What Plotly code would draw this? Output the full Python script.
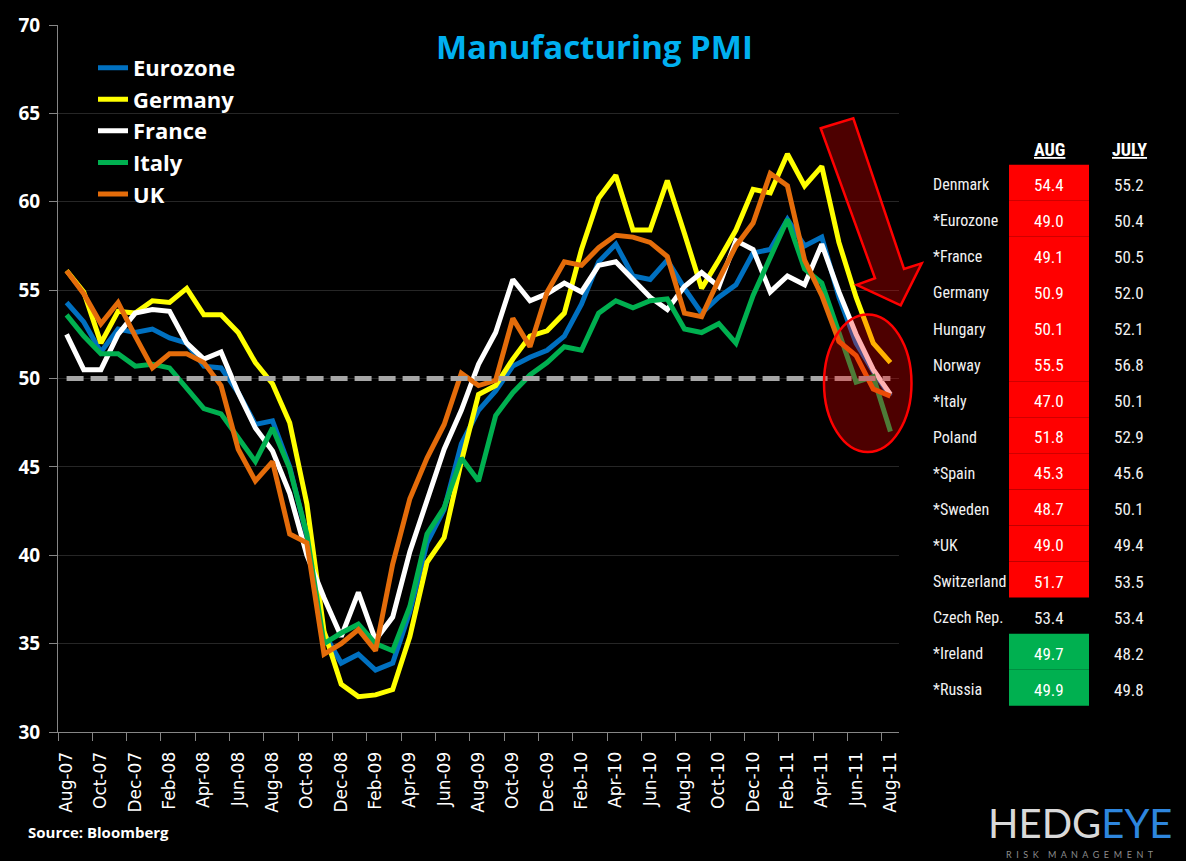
import pandas as pd
import plotly.graph_objects as go

# ---------------- data ----------------
months = [d.strftime("%b-%y") for d in pd.date_range("2007-08-01", "2011-08-01", freq="MS")]

eurozone = [54.3, 53.2, 51.5, 52.8, 52.6, 52.8, 52.3, 52.0, 50.7, 50.6, 49.2, 47.4, 47.6,
            45.0, 41.1, 35.6, 33.9, 34.4, 33.5, 33.9, 36.8, 40.7, 42.6, 46.3, 48.2, 49.3,
            50.7, 51.2, 51.6, 52.4, 54.2, 56.6, 57.6, 55.8, 55.6, 56.7, 55.1, 53.7, 54.6,
            55.3, 57.1, 57.3, 59.0, 57.5, 58.0, 54.6, 52.0, 50.4, 49.0]
germany = [56.1, 54.9, 52.0, 53.8, 53.7, 54.4, 54.3, 55.1, 53.6, 53.6, 52.6, 50.9, 49.7,
           47.5, 42.9, 35.7, 32.7, 32.0, 32.1, 32.4, 35.4, 39.6, 41.0, 45.3, 49.1, 49.6,
           51.1, 52.4, 52.7, 53.7, 57.3, 60.2, 61.5, 58.4, 58.4, 61.2, 58.2, 55.1, 56.7,
           58.4, 60.7, 60.5, 62.7, 60.9, 62.0, 57.7, 54.6, 52.0, 50.9]
france = [52.5, 50.5, 50.5, 52.5, 53.7, 53.9, 53.8, 52.0, 51.1, 51.5, 49.2, 47.2, 45.9,
          43.5, 40.0, 37.6, 35.4, 37.9, 35.2, 36.5, 40.2, 43.2, 46.0, 48.2, 50.8, 52.6,
          55.6, 54.4, 54.8, 55.4, 54.9, 56.4, 56.6, 55.6, 54.6, 53.9, 55.2, 56.0, 55.2,
          57.8, 57.3, 54.9, 55.8, 55.3, 57.6, 54.9, 52.5, 50.5, 49.1]
italy = [53.6, 52.4, 51.4, 51.4, 50.7, 50.8, 50.6, 49.4, 48.3, 48.0, 46.7, 45.3, 47.2,
         44.9, 41.2, 35.0, 35.6, 36.1, 35.0, 34.6, 37.1, 41.2, 42.7, 45.5, 44.2, 47.9,
         49.2, 50.2, 50.9, 51.8, 51.6, 53.7, 54.4, 54.0, 54.4, 54.5, 52.8, 52.6, 53.1,
         52.0, 54.7, 56.9, 59.0, 56.2, 55.4, 52.6, 49.8, 50.1, 47.0]
uk = [56.1, 54.8, 53.1, 54.3, 52.4, 50.6, 51.4, 51.4, 50.9, 49.6, 46.0, 44.2, 45.3,
      41.2, 40.7, 34.4, 35.0, 35.8, 34.6, 39.5, 43.2, 45.5, 47.4, 50.3, 49.6, 49.9,
      53.4, 51.8, 54.9, 56.6, 56.4, 57.4, 58.1, 58.0, 57.7, 56.9, 53.7, 53.5, 55.6,
      57.5, 58.8, 61.6, 60.9, 56.7, 54.7, 52.1, 51.3, 49.4, 49.0]

series_names = ["Eurozone", "Germany", "France", "Italy", "UK"]
series_values = [eurozone, germany, france, italy, uk]
series_colors = ["#0070C0", "#FFFF00", "#FFFFFF", "#00B050", "#E46C0A"]

threshold = 50

countries = ["Denmark", "*Eurozone", "*France", "Germany", "Hungary", "Norway", "*Italy",
             "Poland", "*Spain", "*Sweden", "*UK", "Switzerland", "Czech Rep.", "*Ireland",
             "*Russia"]
aug_vals = [54.4, 49.0, 49.1, 50.9, 50.1, 55.5, 47.0, 51.8, 45.3, 48.7, 49.0, 51.7, 53.4, 49.7, 49.9]
july_vals = [55.2, 50.4, 50.5, 52.0, 52.1, 56.8, 50.1, 52.9, 45.6, 50.1, 49.4, 53.5, 53.4, 48.2, 49.8]

# ---------------- layout geometry ----------------
W, H = 1186, 861
ML, MR, MT, MB = 58, 287, 20, 129
PW, PH = W - ML - MR, H - MT - MB


def px_x(px):
    return (px - ML) / PW


def px_y(py):
    return (H - MB - py) / PH


idx = list(range(len(months)))

fig = go.Figure()
for name, vals, color in zip(series_names, series_values, series_colors):
    fig.add_trace(go.Scatter(x=idx, y=vals, mode="lines", name=name,
                             line=dict(color=color, width=5), hoverinfo="skip"))

fig.add_trace(go.Scatter(x=[idx[0], idx[-1]], y=[threshold, threshold], mode="lines",
                         line=dict(color="#A6A6A6", width=5, dash="17px,7px"),
                         showlegend=False, hoverinfo="skip"))

shapes = []
annotations = []

# highlight ellipse and arrow (decoration)
shapes.append(dict(type="circle", xref="paper", yref="paper",
                   x0=px_x(824), x1=px_x(911.5), y0=px_y(450), y1=px_y(311.5),
                   fillcolor="rgba(255,0,0,0.3)", line=dict(color="#FF0000", width=2.5),
                   layer="above"))
arrow_px = [(820.7, 124), (853.3, 114), (904, 265.7), (921.7, 260), (900.7, 302.3),
            (856.7, 281.7), (875, 275)]
path = "M " + " L ".join(f"{px_x(a):.5f},{px_y(b):.5f}" for a, b in arrow_px) + " Z"
shapes.append(dict(type="path", xref="paper", yref="paper", path=path,
                   fillcolor="rgba(255,0,0,0.3)", line=dict(color="#FF0000", width=2.5),
                   layer="above"))

# table
NAME_X, AUG_X, JULY_X = 931, 1049, 1129
CELL_X0, CELL_X1 = 1009, 1089
ROW0_TOP, ROW_H = 160.7, 36.33
TFONT = "Roboto Condensed, Liberation Sans Narrow, Liberation Sans, sans-serif"

annotations.append(dict(xref="paper", yref="paper", x=px_x(AUG_X), y=px_y(145),
                        text="<b><u>AUG</u></b>", showarrow=False, xanchor="center",
                        yanchor="middle", font=dict(family=TFONT, size=18, color="#FFFFFF")))
annotations.append(dict(xref="paper", yref="paper", x=px_x(JULY_X), y=px_y(145),
                        text="<b><u>JULY</u></b>", showarrow=False, xanchor="center",
                        yanchor="middle", font=dict(family=TFONT, size=18, color="#FFFFFF")))

for k, (c, a, j) in enumerate(zip(countries, aug_vals, july_vals)):
    top = ROW0_TOP + k * ROW_H
    bot = top + ROW_H
    cy = (top + bot) / 2 + 2
    if a < j:
        fill = "#FF0000"
    elif a > j:
        fill = "#00B050"
    else:
        fill = None
    if fill:
        shapes.append(dict(type="rect", xref="paper", yref="paper",
                           x0=px_x(CELL_X0), x1=px_x(CELL_X1), y0=px_y(bot), y1=px_y(top),
                           fillcolor=fill, line=dict(width=0), layer="above"))
    annotations.append(dict(xref="paper", yref="paper", x=px_x(NAME_X), y=px_y(cy), text=c,
                            showarrow=False, xanchor="left", yanchor="middle",
                            font=dict(family=TFONT, size=16, color="#F2F2F2")))
    annotations.append(dict(xref="paper", yref="paper", x=px_x(AUG_X), y=px_y(cy),
                            text=f"{a:.1f}", showarrow=False, xanchor="center",
                            yanchor="middle",
                            font=dict(family=TFONT, size=17, color="#FFFFFF" if fill else "#F2F2F2")))
    annotations.append(dict(xref="paper", yref="paper", x=px_x(JULY_X), y=px_y(cy),
                            text=f"{j:.1f}", showarrow=False, xanchor="center",
                            yanchor="middle", font=dict(family=TFONT, size=17, color="#F2F2F2")))

# title
annotations.append(dict(xref="paper", yref="paper", x=px_x(594), y=px_y(42),
                        text="<b>Manufacturing PMI</b>", showarrow=False, xanchor="center",
                        yanchor="middle", font=dict(family="Open Sans", size=33, color="#00B0F0")))
# source
annotations.append(dict(xref="paper", yref="paper", x=px_x(26), y=px_y(833),
                        text="<b>Source: Bloomberg</b>", showarrow=False, xanchor="left",
                        yanchor="middle", font=dict(family="Open Sans", size=15, color="#FFFFFF")))
# logo
annotations.append(dict(xref="paper", yref="paper", x=px_x(1080), y=px_y(824),
                        text="<span style='color:#D9D9D9'>HEDG</span><span style='color:#2E86DE'>EYE</span>",
                        showarrow=False, xanchor="center", yanchor="middle", height=34,
                        font=dict(family="Lato", size=40, color="#D9D9D9")))
annotations.append(dict(xref="paper", yref="paper", x=px_x(1080), y=px_y(855),
                        text="\u00a0\u00a0".join("RISK") + "\u00a0\u00a0\u00a0\u00a0" + "\u00a0\u00a0".join("MANAGEMENT"),
                        showarrow=False, xanchor="center", yanchor="middle", height=10,
                        font=dict(family="Lato", size=9, color="#8C8C8C")))

fig.update_layout(
    width=W, height=H, autosize=False,
    margin=dict(l=ML, r=MR, t=MT, b=MB, pad=0),
    paper_bgcolor="#000000", plot_bgcolor="#000000",
    showlegend=True,
    legend=dict(x=px_x(93), y=px_y(42), xanchor="left", yanchor="top",
                bgcolor="rgba(0,0,0,0)", tracegroupgap=0,
                font=dict(family="Open Sans", size=22, color="#FFFFFF", weight="bold")),
    xaxis=dict(range=[-0.5, len(months) - 0.5], tickmode="array",
               tickvals=idx[::2], ticktext=months[::2], tickangle=-90, ticks="",
               showline=True, linecolor="#868686", linewidth=1, showgrid=False,
               zeroline=False, ticklabelstandoff=12,
               tickfont=dict(family="DejaVu Sans", size=17, color="#FFFFFF"),
               minor=dict(tickmode="array", tickvals=[i - 0.5 for i in idx[::2]],
                          ticks="outside", ticklen=8, tickcolor="#868686", tickwidth=1,
                          showgrid=False)),
    yaxis=dict(range=[30, 70], tick0=30, dtick=5, ticks="outside", ticklen=8,
               tickcolor="#868686", showline=True, linecolor="#868686", linewidth=1,
               gridcolor="#262626", gridwidth=1, zeroline=False, ticklabelstandoff=5,
               tickfont=dict(family="Open Sans", size=19, color="#FFFFFF", weight="bold")),
    shapes=shapes,
    annotations=annotations,
)

fig.write_html("out.html")
